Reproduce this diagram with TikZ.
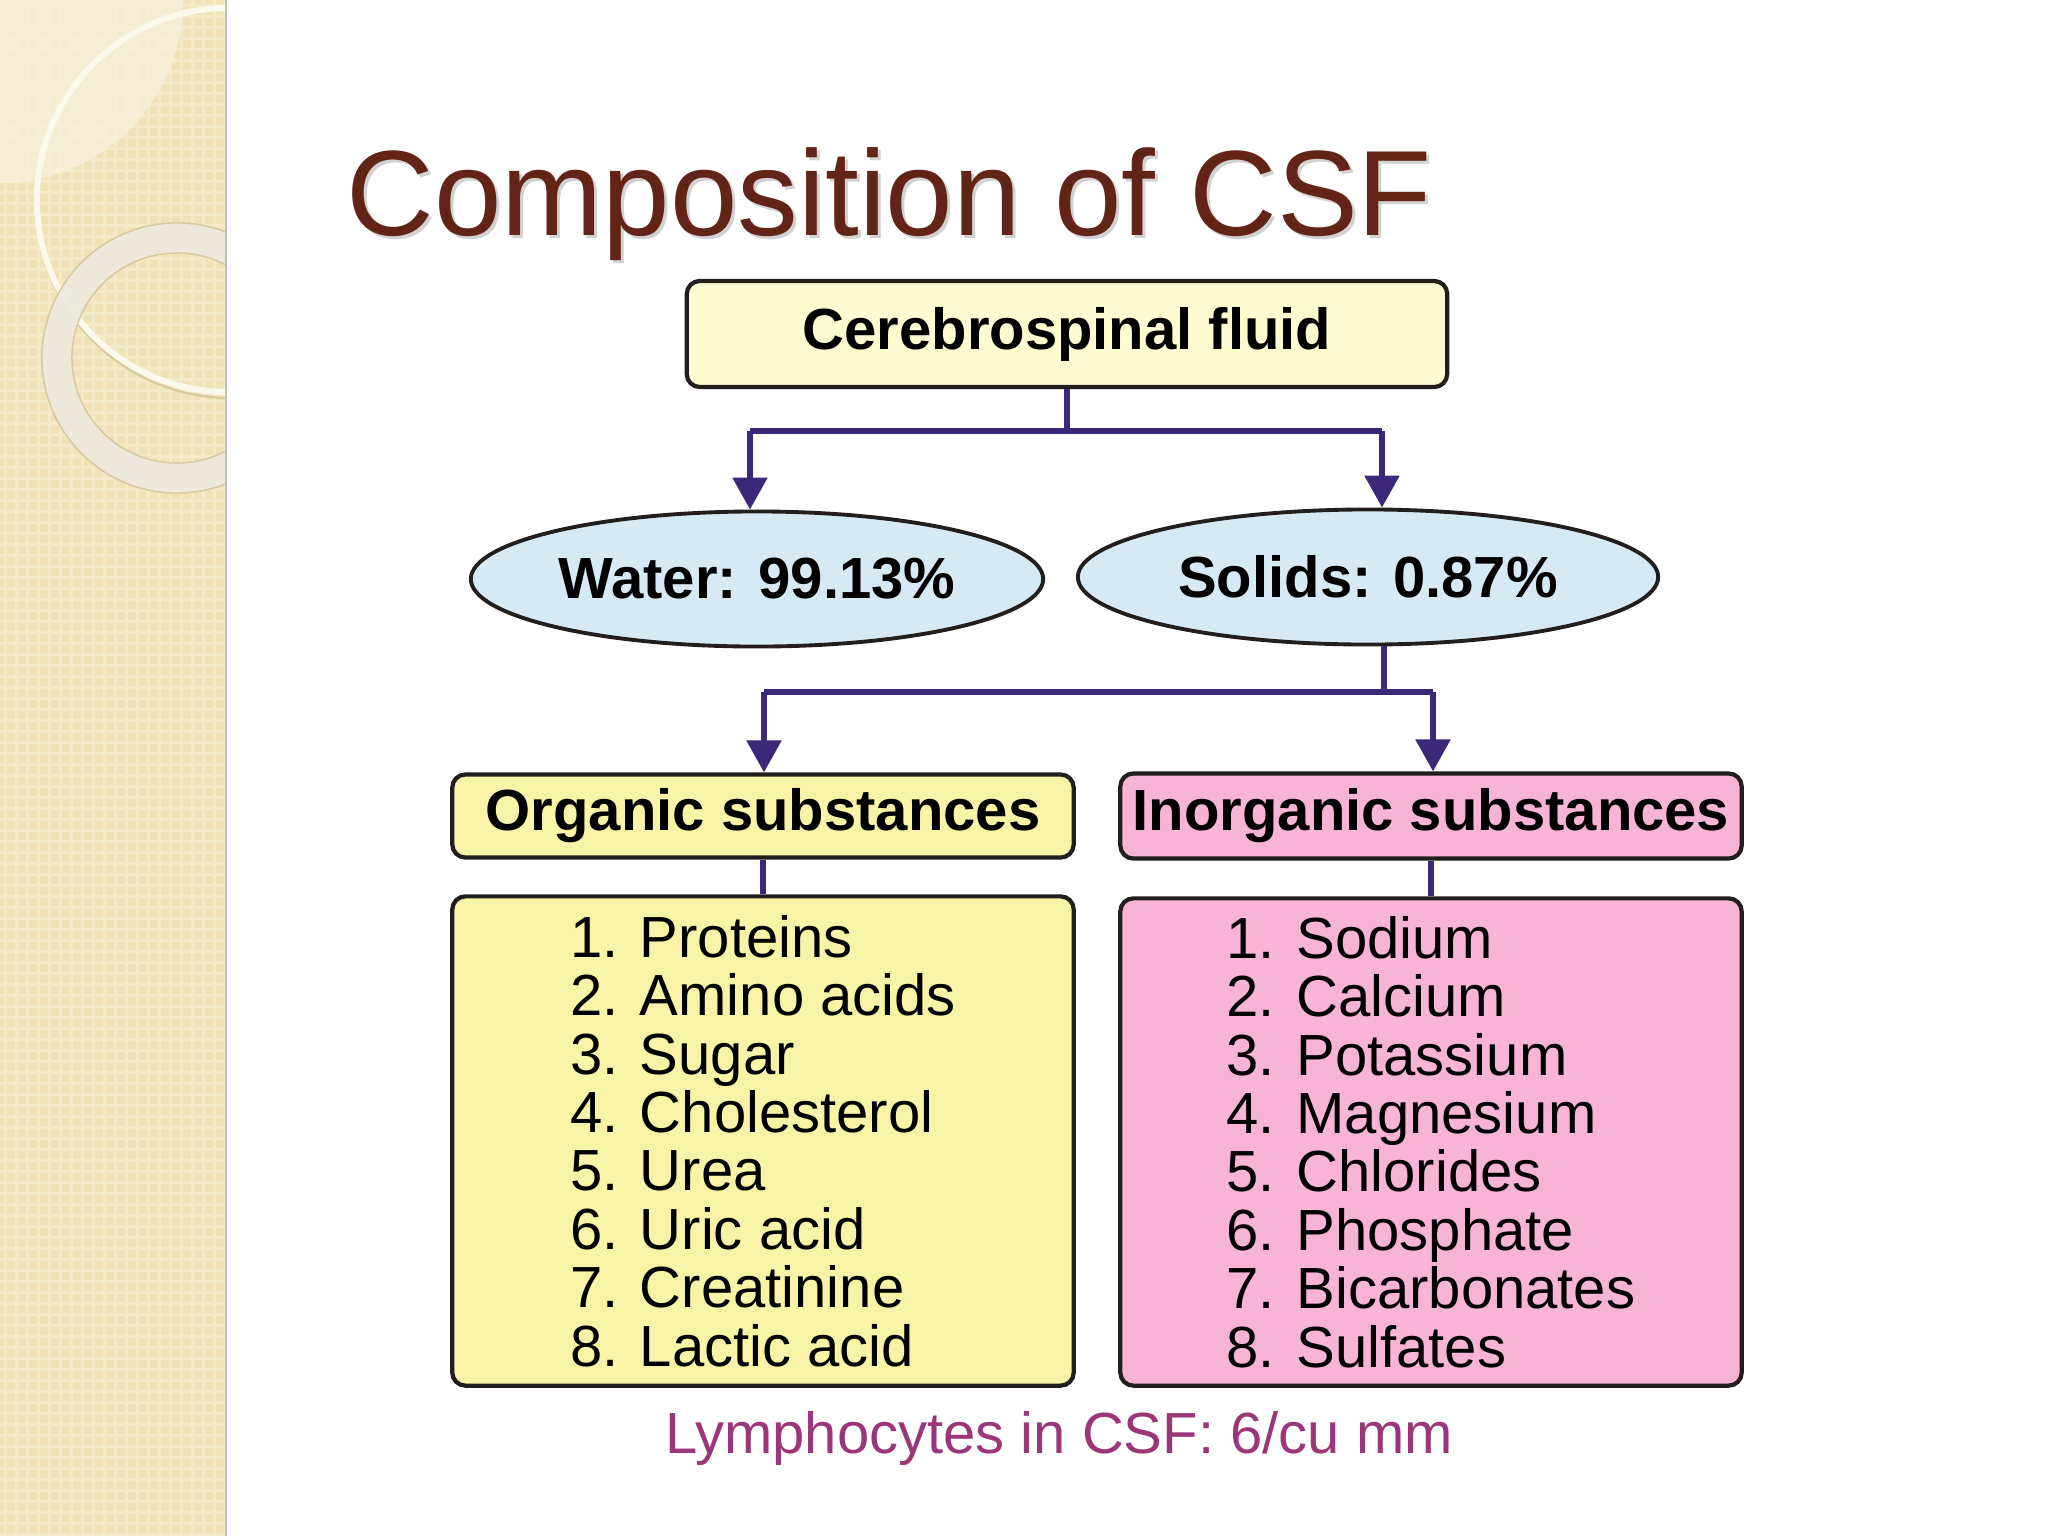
\documentclass[tikz,border=0pt]{standalone}
\usepackage{fontspec}
\setmainfont{Liberation Sans}
\usetikzlibrary{shapes.geometric,arrows.meta}
\definecolor{sidebg}{RGB}{240,226,182}
\definecolor{sidegrid}{RGB}{245,234,200}
\definecolor{lenscol}{RGB}{247,240,218}
\definecolor{ringline}{RGB}{251,248,236}
\definecolor{ringcol}{RGB}{236,233,222}
\definecolor{ringedge}{RGB}{214,200,160}
\definecolor{titlecol}{RGB}{98,36,22}
\definecolor{topfill}{RGB}{253,251,208}
\definecolor{yel}{RGB}{249,243,168}
\definecolor{pinkf}{RGB}{247,180,212}
\definecolor{ovalf}{RGB}{214,234,246}
\definecolor{boxline}{RGB}{35,30,30}
\definecolor{arrowc}{RGB}{60,40,120}
\definecolor{lymph}{RGB}{155,55,120}
\begin{document}
\begin{tikzpicture}[x=0.01cm,y=-0.01cm,
  box/.style={draw=boxline, line width=1.2pt, rounded corners=0.13cm, inner sep=0pt},
  hdr/.style={box, font=\fontsize{16.5}{18}\selectfont\bfseries},
  lst/.style={box, font=\fontsize{16.5}{16.6}\selectfont, align=left},
  oval/.style={ellipse, draw=boxline, line width=1.1pt, fill=ovalf, inner sep=0pt, font=\fontsize{16.5}{18}\selectfont\bfseries},
  conn/.style={draw=arrowc, line width=1.6pt},
  arr/.style={conn, -{Triangle[width=0.34cm,length=0.32cm]}}
]
\useasboundingbox (0,0) rectangle (2048,1536);
\fill[white] (0,0) rectangle (2048,1536);
% sidebar
\fill[sidebg] (0,0) rectangle (226,1536);
\begin{scope}
  \clip (0,0) rectangle (226,1536);
  \foreach \x in {5.5,16.5,...,226} \draw[sidegrid, line width=0.6pt] (\x,0) -- (\x,1536);
  \foreach \y in {5.5,16.5,...,1536} \draw[sidegrid, line width=0.6pt] (0,\y) -- (226,\y);
  \fill[lenscol, opacity=0.8] (0,0) circle[radius=1.83cm];
  \draw[ringedge, line width=0.02cm] (231,203) circle[radius=1.95cm];
  \draw[ringline, line width=0.06cm] (229,200) circle[radius=1.92cm];
  \fill[ringcol, opacity=0.9, even odd rule] (177,358) circle[radius=1.35cm] (177,358) circle[radius=1.05cm];
  \draw[ringedge, line width=0.015cm] (177,358) circle[radius=1.35cm] (177,358) circle[radius=1.05cm];
\end{scope}
\draw[black!25, line width=0.6pt] (226,0) -- (226,1536);
% title
\node[anchor=base west, inner sep=0pt, text=black!35, opacity=0.5, font=\fontsize{34.5}{40}\selectfont] at (349,238) {Composition of CSF};
\node[anchor=base west, inner sep=0pt, text=titlecol, font=\fontsize{34.5}{40}\selectfont] (title) at (346,235) {Composition of CSF};
% nodes
\node[hdr, fill=topfill, minimum width=7.6cm, minimum height=1.06cm] (csf) at (1067,334) {Cerebrospinal fluid};
\node[oval, minimum width=5.72cm, minimum height=1.35cm] (water) at (757,579) {Water: 99.13\%};
\node[oval, minimum width=5.8cm, minimum height=1.35cm] (solids) at (1368,577) {Solids: 0.87\%};
\node[hdr, fill=yel, minimum width=6.21cm, minimum height=0.83cm] (org) at (763,816) {Organic substances};
\node[hdr, fill=pinkf, minimum width=6.21cm, minimum height=0.85cm] (inorg) at (1431,816) {Inorganic substances};
\node[lst, fill=yel, minimum width=6.21cm, minimum height=4.89cm] (orgl) at (763,1141)
  {1. Proteins\\2. Amino acids\\3. Sugar\\4. Cholesterol\\5. Urea\\6. Uric acid\\7. Creatinine\\8. Lactic acid};
\node[lst, fill=pinkf, minimum width=6.21cm, minimum height=4.87cm] (inorgl) at (1431,1142)
  {1. Sodium\\2. Calcium\\3. Potassium\\4. Magnesium\\5. Chlorides\\6. Phosphate\\7. Bicarbonates\\8. Sulfates};
\node[inner sep=0pt, text=lymph, font=\fontsize{16.5}{18}\selectfont] (lym) at (1059,1438) {Lymphocytes in CSF: 6/cu mm};
% connectors
\coordinate (j1) at (1067,431);
\coordinate (wx) at (750,431);
\coordinate (sx) at (1382,431);
\draw[conn] (csf.south) -- (j1);
\draw[conn] (wx) -- (sx);
\draw[arr] (wx) -- (wx |- water.north);
\draw[arr] (sx) -- (sx |- solids.north);
\coordinate (j2) at (1384,692);
\coordinate (ox) at (764,692);
\coordinate (ix) at (1433,692);
\draw[conn] (solids.south -| j2) -- (j2);
\draw[conn] (ox) -- (ix);
\draw[arr] (ox) -- (ox |- org.north);
\draw[arr] (ix) -- (ix |- inorg.north);
\draw[conn] (org.south) -- (orgl.north);
\draw[conn] (inorg.south) -- (inorgl.north);
\end{tikzpicture}
\end{document}
